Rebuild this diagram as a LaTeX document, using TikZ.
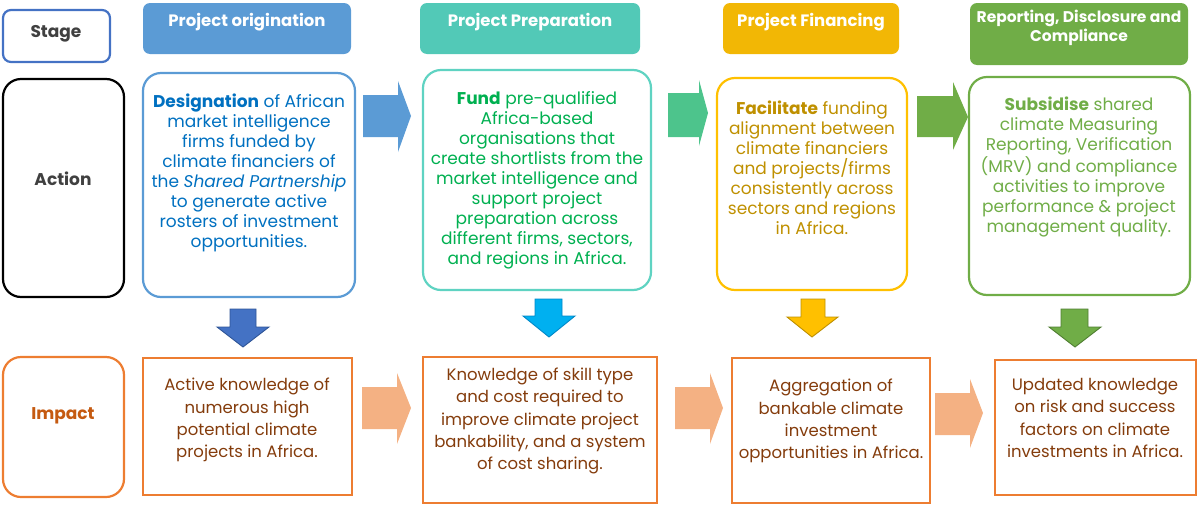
\documentclass[tikz,border=0pt]{standalone}
\usepackage{fontspec}
\setmainfont{Poppins}
\usetikzlibrary{fit}
\definecolor{cStageB}{HTML}{4472C4}
\definecolor{cLab}{HTML}{404040}
\definecolor{cOr}{HTML}{ED7D31}
\definecolor{cImpT}{HTML}{C55A11}
\definecolor{cBrown}{HTML}{843C0C}
\definecolor{cH1}{HTML}{5B9BD5}
\definecolor{cH2}{HTML}{52C9B7}
\definecolor{cH3}{HTML}{F2B705}
\definecolor{cH4}{HTML}{70AD47}
\definecolor{cA1B}{HTML}{5B9BD5}
\definecolor{cA1T}{HTML}{0070C0}
\definecolor{cA2B}{HTML}{5FD3C2}
\definecolor{cA2T}{HTML}{00B050}
\definecolor{cA3B}{HTML}{FFC000}
\definecolor{cA3T}{HTML}{BF9000}
\definecolor{cA4B}{HTML}{70AD47}
\definecolor{cA4T}{HTML}{70AD47}
\definecolor{cArr2}{HTML}{4DC48C}
\definecolor{cImpArr}{HTML}{F4B183}
\definecolor{cD1}{HTML}{4472C4}
\definecolor{cD1B}{HTML}{2F5597}
\definecolor{cD2}{HTML}{00B0F0}
\definecolor{cD2B}{HTML}{0088C8}
\definecolor{cD3}{HTML}{FFC000}
\definecolor{cD3B}{HTML}{BF9000}
\definecolor{cD4}{HTML}{70AD47}
\definecolor{cD4B}{HTML}{507E32}
\begin{document}
\begin{tikzpicture}[x=1pt,y=-1pt,
  boxbase/.style={inner sep=0pt, line width=2.2pt},
  labbox/.style={boxbase, draw, rounded corners=18pt},
  hdrbox/.style={boxbase, draw=none, rounded corners=7pt},
  actbox/.style={boxbase, draw, rounded corners=18pt},
  impbox/.style={boxbase, draw=cOr},
  labtext/.style={font={\fontsize{17}{20}\selectfont\bfseries}, text=cLab, inner sep=0pt},
  hdrtext/.style={font={\fontsize{16.5}{19}\selectfont\bfseries}, text=white, align=center, inner sep=0pt},
  acttext/.style={font={\fontsize{17}{20}\selectfont}, align=center, inner sep=0pt},
  imptext/.style={font={\fontsize{16.5}{22.3}\selectfont}, text=cBrown, align=center, inner sep=0pt},
  darrow/.style={line width=0.9pt}
]
\useasboundingbox (0,0) rectangle (1200,509);

% label column
\node[labbox, draw=cStageB, rounded corners=8pt, fit={(3,10) (110,62)}] (stage) {};
\node[labtext] (stageT) at (56,34) {Stage};
\node[labbox, draw=black, fit={(3,79) (124,297)}] (actlab) {};
\node[labtext] (actlabT) at (63,179) {Action};
\node[labbox, draw=cOr, fit={(3,357) (124,497)}] (implab) {};
\node[labtext, text=cImpT] (implabT) at (63,416) {Impact};

% headers
\node[hdrbox, fill=cH1, fit={(143,3) (351,54)}] (h1) {};
\node[hdrtext] (h1T) at (247,22) {Project origination};
\node[hdrbox, fill=cH2, fit={(420,3) (640,54)}] (h2) {};
\node[hdrtext] (h2T) at (530,22) {Project Preparation};
\node[hdrbox, fill=cH3, fit={(723,3) (899,54)}] (h3) {};
\node[hdrtext] (h3T) at (811,22) {Project Financing};
\node[hdrbox, fill=cH4, fit={(970,3) (1188,65)}] (h4) {};
\node[hdrtext, font={\fontsize{15.5}{19}\selectfont\bfseries}] (h4T) at (1079,28) {Reporting, Disclosure and\\Compliance};

% action boxes
\node[actbox, draw=cA1B, fit={(143,73) (355,297)}] (a1) {};
\node[acttext, text=cA1T] (a1T) at (249,173) {\textbf{Designation} of African\\market intelligence\\firms funded by\\climate financiers of\\the \textit{Shared Partnership}\\to generate active\\rosters of investment\\opportunities.};
\node[actbox, draw=cA2B, fit={(423,70) (651,290)}] (a2) {};
\node[acttext, text=cA2T] (a2T) at (537,180) {\textbf{Fund} pre-qualified\\Africa-based\\organisations that\\create shortlists from the\\market intelligence and\\support project\\preparation across\\different firms, sectors,\\and regions in Africa.};
\node[actbox, draw=cA3B, fit={(717,78) (907,290)}] (a3) {};
\node[acttext, text=cA3T] (a3T) at (812,168) {\textbf{Facilitate} funding\\alignment between\\climate financiers\\and projects/firms\\consistently across\\sectors and regions\\in Africa.};
\node[actbox, draw=cA4B, fit={(969,77) (1190,295)}] (a4) {};
\node[acttext, text=cA4T] (a4T) at (1079,167) {\textbf{Subsidise} shared\\climate Measuring\\Reporting, Verification\\(MRV) and compliance\\activities to improve\\performance \& project\\management quality.};

% impact boxes
\node[impbox, fit={(143,358) (352,495)}] (i1) {};
\node[imptext] (i1T) at (247,420) {Active knowledge of\\numerous high\\potential climate\\projects in Africa.};
\node[impbox, fit={(423,357) (657,503)}] (i2) {};
\node[imptext] (i2T) at (540,421) {Knowledge of skill type\\and cost required to\\improve climate project\\bankability, and a system\\of cost sharing.};
\node[impbox, fit={(732,358) (930,503)}] (i3) {};
\node[imptext] (i3T) at (831,421) {Aggregation of\\bankable climate\\investment\\opportunities in Africa.};
\node[impbox, fit={(995,360) (1196,495)}] (i4) {};
\node[imptext] (i4T) at (1095,418) {Updated knowledge\\on risk and success\\factors on climate\\investments in Africa.};

% horizontal block arrows (action row)
\fill[cH1] (363,95) -- (398,95) -- (398,81) -- (411,116) -- (398,152) -- (398,137) -- (363,137) -- cycle;
\fill[cArr2] (668,93) -- (699,93) -- (699,80) -- (708,113) -- (699,146) -- (699,137) -- (668,137) -- cycle;
\fill[cH4] (917,96) -- (953,96) -- (953,82) -- (968,117) -- (953,150) -- (953,137) -- (917,137) -- cycle;

% horizontal block arrows (impact row)
\fill[cImpArr] (362,387) -- (397,387) -- (397,373) -- (411,408) -- (397,444) -- (397,429) -- (362,429) -- cycle;
\fill[cImpArr] (675,387) -- (710,387) -- (710,373) -- (723,408) -- (710,444) -- (710,429) -- (675,429) -- cycle;
\fill[cImpArr] (935,393) -- (970,393) -- (970,379) -- (983,413) -- (970,448) -- (970,435) -- (935,435) -- cycle;

% down block arrows
\filldraw[darrow, fill=cD1, draw=cD1B] (230,309) -- (256,309) -- (256,327) -- (269,327) -- (243,347) -- (217,327) -- (230,327) -- cycle;
\filldraw[darrow, fill=cD2, draw=cD2B] (535,299) -- (562,299) -- (562,316) -- (575,316) -- (549,337) -- (523,316) -- (535,316) -- cycle;
\filldraw[darrow, fill=cD3, draw=cD3B] (801,299) -- (825,299) -- (825,317) -- (838,317) -- (812,337) -- (787,317) -- (801,317) -- cycle;
\filldraw[darrow, fill=cD4, draw=cD4B] (1061,309) -- (1088,309) -- (1088,327) -- (1101,327) -- (1075,347) -- (1049,327) -- (1061,327) -- cycle;
\end{tikzpicture}
\end{document}
